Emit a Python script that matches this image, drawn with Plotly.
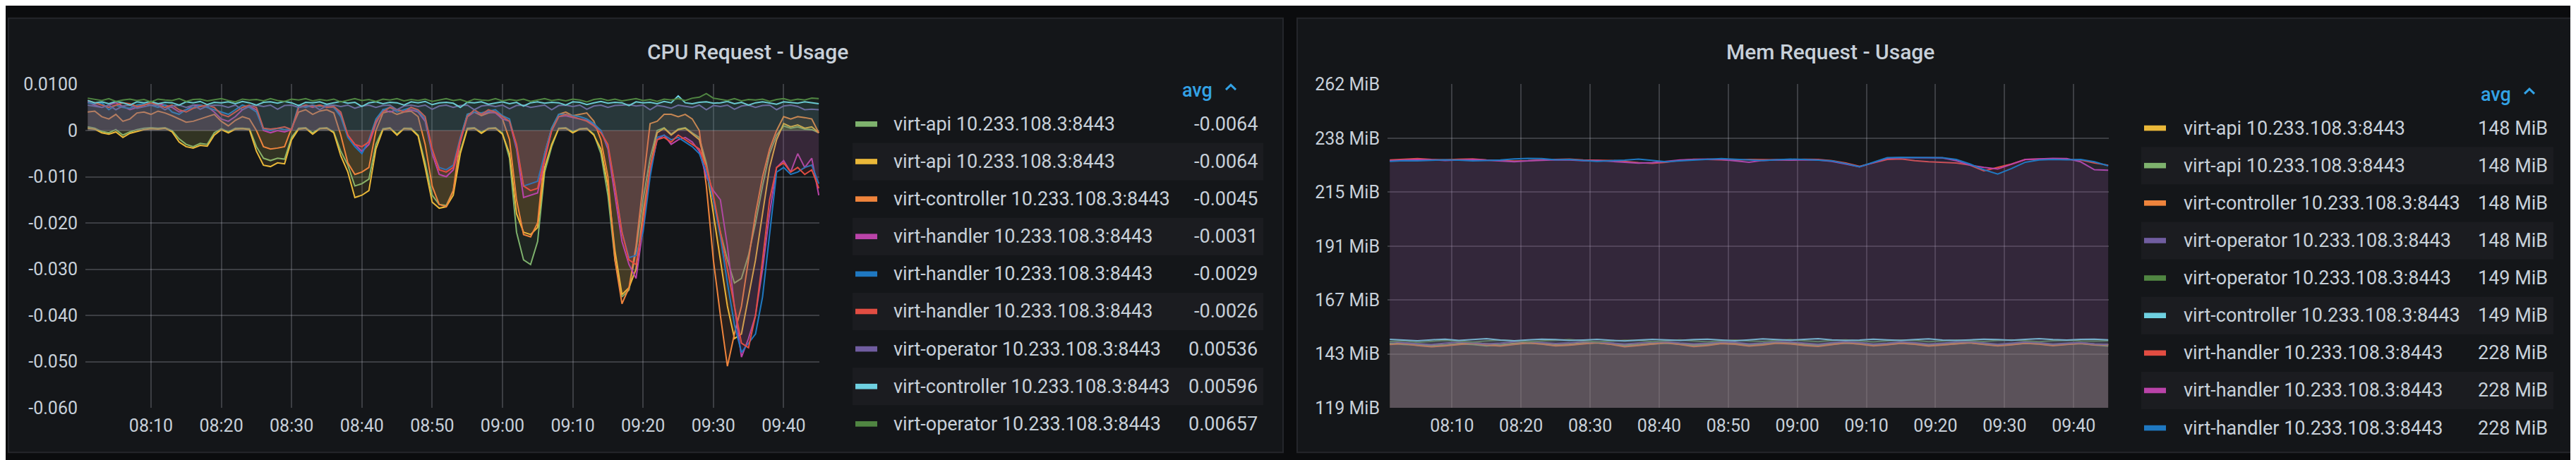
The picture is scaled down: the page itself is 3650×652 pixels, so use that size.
import pandas as pd
import plotly.graph_objects as go

W, H = 3650, 652

# CPU request - usage, one point per minute from 08:01, in units of 0.001
cpu_api_green = [
    0.8, 0.5, -0.2, -0.5, 0.2, -1.0, -0.3, 0.2, 0.5, 0.6, 0.5, 0.6,
    0.0, -1.8, -3.0, -3.5, -2.8, -3.0, -0.5,
    0.4, -0.3, 0.5, 0.5, 0.4,
    -3.5, -6.0, -6.5, -6.0, -6.2, -1.5,
    0.5, 0.6, -0.5, 0.5, 0.6, -0.3,
    -4.5, -7.5, -12.0, -11.5, -10.5, -3.0,
    0.4, 0.6, -0.8, 0.5, 0.5, -1.0,
    -7.0, -14.0, -16.0, -16.2, -13.0, -4.5,
    0.5, 0.6, -0.4, 0.5, 0.6, -0.6,
    -6.0, -22.0, -28.0, -29.0, -24.0, -9.0, -3.5,
    0.5, 0.6, -0.3, 0.4, 0.5, -0.8,
    -5.0, -14.0, -28.0, -36.0, -34.5, -26.0, -15.0, -6.0,
    0.0, 0.6, -0.8, 0.3, 0.6, -0.5, -1.5,
    -7.0, -15.0, -22.0, -28.0, -33.0, -32.0, -27.0, -20.0, -12.0, -5.0, -1.0,
    1.0, 0.5, 0.8, 0.3, 0.2, -0.5,
]
cpu_api_yellow = [
    0.5, 0.3, -0.5, -0.8, -0.3, -1.5, -0.6, -0.2, 0.2, 0.4, 0.3, 0.5,
    -0.3, -2.5, -3.5, -3.8, -3.2, -3.4, -1.0,
    0.2, -0.5, 0.3, 0.4, 0.2,
    -4.5, -7.5, -7.8, -7.0, -7.2, -2.0,
    0.3, 0.5, -0.8, 0.4, 0.5, -0.5,
    -5.5, -9.0, -14.5, -14.0, -13.0, -4.0,
    0.2, 0.5, -1.0, 0.4, 0.3, -1.2,
    -8.0, -15.5, -16.8, -16.5, -14.0, -5.0,
    0.3, 0.5, -0.6, 0.4, 0.5, -0.8,
    -5.0, -18.0, -22.0, -22.5, -21.0, -8.0, -3.0,
    0.4, 0.5, -0.5, 0.3, 0.4, -1.0,
    -4.0, -12.0, -26.0, -35.5, -34.0, -30.0, -18.0, -8.0,
    -0.5, 0.5, -1.0, 0.2, 0.5, -0.8, -2.0,
    -8.0, -18.0, -28.0, -38.0, -45.0, -44.0, -36.0, -28.0, -18.0, -8.0, -2.0,
    1.5, 0.8, 1.2, 0.5, 0.8, -0.5,
]
cpu_controller_orange = [
    4.0, 4.2, 3.0, 2.5, 3.5, 2.0, 2.5, 3.8, 4.0, 3.5, 4.2, 3.8,
    3.2, 2.5, 1.8, 2.0, 2.5, 3.0, 3.5,
    2.0, 1.0, 2.2, 3.0, 2.5,
    0.0, -3.5, -4.0, -3.8, -3.5, 0.5,
    4.0, 4.5, 3.5, 4.2, 4.5, 3.8,
    -1.0, -7.0, -9.5, -9.0, -8.0, 0.0,
    3.8, 4.2, 3.5, 4.0, 4.2, 3.0,
    -3.0, -12.0, -16.0, -16.5, -13.0, -2.0,
    3.5, 4.0, 3.2, 3.8, 4.0, 2.5,
    -2.0, -15.0, -22.5, -23.0, -20.0, -5.0, 0.5,
    3.5, 4.0, 3.2, 3.5, 3.8, 2.0,
    -2.0, -10.0, -28.0, -37.5, -34.0, -25.0, -12.0, 1.5,
    2.0, 3.5, 3.5, 3.0, 3.5, 2.5, 0.0,
    -12.0, -28.0, -40.0, -51.0, -44.0, -38.0, -28.0, -18.0, -10.0, -4.0, 0.0,
    3.0, 2.5, 3.0, 2.8, 2.5, -0.5,
]
cpu_handler_magenta = [
    6.2, 5.5, 5.0, 5.5, 6.0, 5.2, 4.5, 5.0, 5.5, 6.0, 5.8, 5.5,
    5.0, 4.0, 4.5, 5.5, 5.5, 5.2, 4.0,
    2.5, 2.0, 3.0, 4.5, 5.2,
    4.5, 0.0, -0.5, 0.0, -0.3, 0.2,
    5.0, 5.5, 5.0, 5.5, 5.2, 5.0,
    3.5, -1.0, -3.0, -4.5, -3.0, 1.5,
    4.5, 4.0, 4.5, 4.2, 4.5, 4.0,
    2.0, -5.0, -9.5, -10.0, -8.5, -2.5,
    3.0, 4.0, 3.5, 4.0, 3.8, 2.5,
    2.0, -4.0, -14.5, -14.0, -13.5, -6.5, 0.0,
    3.0, 3.2, 2.8, 2.5, 2.2, 1.2,
    0.0, -4.0, -14.0, -24.0, -29.0, -32.0, -21.0, -9.0,
    -2.0, -1.0, -3.0, -2.0, -1.5, -2.5, -4.5,
    -10.0, -13.0, -15.0, -25.0, -38.0, -49.0, -45.0, -40.0, -30.0, -18.0, -8.0,
    -6.5, -9.0, -5.0, -8.0, -6.0, -14.0,
]
cpu_handler_blue = [
    6.0, 5.8, 6.0, 4.5, 5.5, 5.0, 4.8, 5.5, 5.8, 5.5, 5.0, 5.5,
    4.0, 3.5, 4.5, 5.0, 5.5, 5.0, 4.5,
    4.0, 3.5, 4.5, 5.5, 5.0,
    4.0, 0.3, 0.0, 0.5, 0.2, 0.3,
    5.5, 5.0, 5.5, 5.2, 5.5, 5.0,
    3.0, -1.5, -3.5, -5.0, -2.0, 2.5,
    4.5, 5.0, 4.0, 4.5, 5.0, 4.2,
    2.5, -4.5, -8.0, -8.5, -7.5, -1.5,
    3.5, 4.0, 3.8, 4.2, 4.5, 3.2,
    2.5, -3.5, -12.0, -11.5, -11.0, -5.0, 0.5,
    3.5, 3.5, 3.2, 3.0, 2.5, 1.5,
    0.0, -3.5, -12.0, -22.0, -27.5, -27.0, -22.0, -10.0,
    -1.5, -1.0, -2.0, -1.5, -2.5, -3.5, -5.0,
    -9.0, -15.0, -23.0, -33.0, -42.0, -48.0, -46.0, -44.0, -36.0, -22.0, -9.0,
    -8.0, -9.5, -9.0, -8.0, -7.5, -11.5,
]
cpu_handler_red = [
    6.5, 6.0, 5.5, 5.0, 5.5, 6.0, 5.8, 5.2, 5.5, 6.0, 5.5, 5.0,
    5.5, 4.5, 4.0, 4.8, 5.2, 5.5, 5.0,
    3.5, 3.0, 4.0, 5.0, 5.5,
    5.0, 0.5, 0.3, 0.5, 0.8, 0.2,
    5.0, 5.5, 5.2, 5.5, 5.0, 5.2,
    4.0, -1.0, -3.0, -3.5, -2.5, 2.0,
    4.0, 5.0, 4.5, 4.0, 5.0, 4.5,
    3.0, -4.0, -8.5, -9.0, -8.0, -2.0,
    3.0, 4.5, 3.5, 4.5, 4.0, 3.0,
    2.0, -3.0, -12.0, -13.0, -12.5, -6.0, 0.0,
    3.0, 3.5, 3.0, 2.5, 2.0, 1.0,
    -0.5, -3.0, -12.0, -22.0, -28.0, -29.0, -20.0, -8.0,
    -2.0, -1.5, -2.5, -1.0, -2.0, -3.0, -4.0,
    -8.0, -14.0, -22.0, -30.0, -38.0, -46.0, -47.0, -40.0, -28.0, -15.0, -8.0,
    -7.0, -9.0, -8.0, -9.5, -8.5, -12.5,
]
cpu_operator_purple = [
    5.5, 5.2, 5.0, 5.5, 4.5, 5.3, 5.5, 4.8, 5.2, 5.5, 5.4, 4.5, 5.3, 5.5, 5.0,
    5.5, 4.6, 5.3, 5.5, 5.4, 5.0, 5.5, 4.5, 5.3, 5.5, 5.2, 5.5, 4.6, 5.4, 5.5,
    5.0, 5.3, 5.5, 4.5, 5.4, 5.5, 5.2, 5.5, 4.8, 5.3, 5.5, 5.0, 5.4, 5.5, 4.5,
    5.3, 5.5, 5.2, 5.5, 4.6, 5.3, 5.5, 5.0, 5.4, 5.5, 4.5, 5.3, 5.5, 5.2, 5.5,
    4.7, 5.4, 5.5, 5.0, 5.3, 5.5, 4.5, 5.4, 5.5, 5.2, 5.5, 4.6, 5.3, 5.5, 5.0,
    5.4, 5.5, 5.6, 5.3, 5.5, 4.5, 5.4, 5.2, 4.8, 5.5, 5.3, 5.0, 5.5, 4.5, 5.4,
    5.2, 5.5, 4.6, 5.3, 5.5, 5.0, 5.4, 5.5, 4.5, 5.3, 5.5, 5.2, 4.5, 4.6, 4.5,
]
cpu_controller_cyan = [
    6.5, 6.0, 6.2, 5.8, 6.3, 6.0, 5.5, 6.2, 6.0, 6.3, 5.8, 6.1, 6.0, 5.5, 6.2,
    6.0, 6.3, 5.6, 6.1, 6.0, 6.2, 5.8, 6.3, 6.0, 5.5, 6.1, 6.2, 5.9, 6.3, 6.0,
    5.4, 6.1, 6.0, 6.2, 5.7, 6.0, 6.3, 5.9, 6.1, 5.2, 6.0, 6.2, 5.8, 6.1, 6.0,
    5.5, 6.2, 6.0, 6.3, 5.6, 6.0, 6.1, 5.9, 5.0, 6.1, 6.0, 6.2, 5.7, 6.0, 6.2,
    5.8, 6.1, 5.3, 6.0, 6.2, 5.9, 6.1, 6.0, 5.5, 6.2, 6.1, 5.6, 6.0, 6.3, 5.9,
    6.1, 6.0, 5.4, 6.2, 6.0, 6.1, 5.8, 6.3, 6.0, 7.5, 6.0, 5.8, 6.1, 6.2, 5.9,
    6.0, 6.3, 5.8, 6.1, 5.5, 6.0, 6.2, 6.0, 5.7, 6.2, 6.1, 5.9, 6.2, 6.0, 5.8,
]
cpu_operator_green = [
    7.0, 6.8, 6.5, 6.9, 6.3, 6.6, 6.8, 6.5, 6.7, 6.2, 6.8, 6.6, 6.5, 6.9, 6.3,
    6.7, 6.8, 6.4, 6.6, 6.9, 6.5, 6.2, 6.8, 6.6, 6.7, 6.4, 6.9, 6.5, 6.3, 6.8,
    6.6, 6.9, 6.4, 6.7, 6.5, 6.8, 6.2, 6.6, 6.9, 6.5, 6.7, 6.3, 6.8, 6.6, 6.9,
    6.4, 6.7, 6.5, 6.8, 6.3, 6.6, 6.9, 6.5, 6.7, 6.2, 6.8, 6.6, 6.5, 6.9, 6.4,
    6.7, 6.5, 6.8, 6.3, 6.6, 6.9, 6.5, 6.7, 6.4, 6.8, 6.6, 6.2, 6.7, 6.9, 6.5,
    6.8, 6.4, 6.6, 6.9, 6.5, 6.7, 6.3, 6.8, 6.6, 6.9, 6.5, 7.0, 7.2, 8.0, 7.0,
    6.8, 6.5, 6.9, 6.4, 6.7, 6.6, 6.8, 6.3, 6.7, 6.9, 6.5, 6.8, 6.6, 7.0, 6.9,
]

# Mem request - usage, one point every 2 minutes from 08:01, MiB
mem_api_yellow = [
    147.5, 147.8, 147.2, 146.8, 147.0, 147.6, 147.9, 147.4, 147.1, 147.7,
    148.2, 147.8, 147.0, 147.3, 147.9, 148.0, 147.5, 146.9, 147.2, 147.8,
    148.1, 147.6, 147.0, 147.4, 148.0, 147.7, 147.2, 147.6, 148.2, 147.9,
    147.3, 147.0, 147.6, 148.1, 147.8, 147.2, 147.5, 148.0, 147.7, 147.1,
    147.4, 147.9, 148.2, 147.6, 147.0, 147.5, 148.0, 147.8, 147.2, 147.6,
    147.9, 147.4, 147.3,
]
mem_api_green = [
    147.8, 147.2, 147.0, 146.5, 146.9, 147.5, 147.2, 146.6, 147.0, 147.4,
    147.8, 147.5, 146.8, 147.0, 147.6, 147.9, 147.2, 146.7, 147.0, 147.5,
    147.8, 147.3, 146.8, 147.1, 147.7, 147.4, 146.9, 147.3, 147.9, 147.6,
    147.0, 146.8, 147.3, 147.8, 147.5, 146.9, 147.2, 147.7, 147.4, 146.8,
    147.1, 147.6, 147.9, 147.3, 146.8, 147.2, 147.7, 147.5, 146.9, 147.3,
    147.6, 147.0, 146.5,
]
mem_controller_orange = [
    147.2, 147.6, 146.8, 146.2, 146.6, 147.3, 147.8, 147.0, 146.5, 147.2,
    147.9, 147.4, 146.6, 146.9, 147.5, 148.0, 147.3, 146.2, 146.8, 147.5,
    148.0, 147.2, 146.3, 146.8, 147.6, 147.3, 146.5, 147.0, 147.8, 147.5,
    146.8, 146.4, 147.2, 147.9, 147.4, 146.6, 147.1, 147.8, 147.3, 146.5,
    147.0, 147.6, 148.0, 147.2, 146.6, 147.1, 147.8, 147.4, 146.7, 147.2,
    147.7, 147.1, 147.0,
]
mem_operator_purple = [
    148.5, 148.0, 147.6, 147.2, 147.8, 148.3, 148.0, 147.5, 147.8, 148.4,
    148.6, 148.2, 147.6, 147.9, 148.5, 148.4, 147.8, 147.4, 147.9, 148.3,
    148.5, 147.9, 147.5, 147.8, 148.4, 148.2, 147.5, 147.9, 148.6, 148.3,
    147.7, 147.3, 148.0, 148.5, 148.1, 147.4, 147.8, 148.4, 148.0, 147.4,
    147.8, 148.3, 148.5, 147.9, 147.3, 147.8, 148.3, 148.0, 147.4, 147.8,
    148.1, 147.5, 147.2,
]
mem_operator_green = [
    148.6, 148.9, 148.2, 148.5, 149.0, 148.7, 148.3, 148.8, 149.2, 148.9,
    148.5, 148.8, 149.2, 149.4, 148.9, 148.4, 148.7, 149.1, 149.0, 148.5,
    148.9, 149.3, 148.8, 148.4, 148.9, 149.2, 148.8, 148.6, 149.0, 149.4,
    148.9, 148.5, 149.0, 149.3, 148.8, 148.4, 148.9, 149.2, 149.0, 148.5,
    148.8, 149.2, 148.9, 148.6, 149.0, 149.3, 148.9, 148.5, 148.9, 149.1,
    148.8, 148.7, 148.9,
]
mem_controller_cyan = [
    149.5, 149.2, 148.9, 149.3, 149.6, 149.0, 149.4, 149.8, 149.2, 148.9,
    149.3, 149.6, 149.4, 149.0, 149.2, 149.5, 149.1, 148.8, 149.2, 149.5,
    149.3, 149.0, 149.4, 149.6, 149.2, 148.9, 149.3, 149.7, 149.4, 149.1,
    149.5, 149.8, 149.3, 149.0, 149.2, 149.6, 149.3, 149.0, 149.4, 149.7,
    149.2, 149.0, 149.3, 149.6, 149.4, 149.1, 149.5, 149.8, 149.4, 149.2,
    149.5, 149.6, 149.3,
]
mem_handler_red = [
    228.8, 229.2, 229.4, 229.0, 228.9, 229.1, 229.3, 228.8, 228.6, 228.3,
    228.5, 228.9, 229.0, 229.2, 228.8, 228.7, 228.6, 228.2, 227.6, 227.3,
    227.8, 228.6, 229.1, 229.0, 228.8, 228.7, 229.0, 228.9, 228.7, 228.8,
    229.1, 229.0, 228.5, 227.5, 226.0, 227.5, 229.0, 229.3, 228.5, 228.0,
    227.8, 227.5, 226.5, 224.0, 225.5, 227.0, 229.0, 229.2, 229.3, 229.0,
    228.8, 227.5, 226.5,
]
mem_handler_magenta = [
    228.5, 228.8, 229.0, 228.9, 228.6, 228.8, 229.0, 228.7, 228.3, 228.0,
    228.4, 228.7, 228.9, 228.8, 228.5, 228.6, 228.3, 227.8, 227.4, 227.6,
    228.2, 228.8, 229.0, 229.2, 229.0, 228.5, 227.8, 228.6, 228.9, 228.7,
    228.9, 228.8, 228.2, 227.0, 225.8, 227.6, 229.6, 229.8, 229.9, 229.8,
    229.7, 228.5, 226.5, 225.5, 224.8, 227.0, 229.0, 229.3, 229.5, 229.4,
    228.0, 224.5, 224.3,
]
mem_handler_blue = [
    228.2, 228.5, 228.4, 228.6, 228.9, 228.7, 228.4, 228.6, 228.8, 229.3,
    229.5, 229.4, 228.9, 229.0, 228.7, 228.2, 228.5, 228.7, 229.2, 228.6,
    228.0, 228.4, 228.8, 229.0, 229.4, 229.1, 228.8, 228.6, 228.9, 229.2,
    229.0, 228.7, 228.4, 227.2, 225.8, 227.8, 229.8, 230.0, 230.0, 230.0,
    229.8, 229.0, 227.0, 224.5, 222.6, 225.0, 227.8, 228.8, 229.0, 228.9,
    229.0, 228.0, 226.2,
]

cpu_names = ["virt-api 10.233.108.3:8443", "virt-api 10.233.108.3:8443",
             "virt-controller 10.233.108.3:8443", "virt-handler 10.233.108.3:8443",
             "virt-handler 10.233.108.3:8443", "virt-handler 10.233.108.3:8443",
             "virt-operator 10.233.108.3:8443", "virt-controller 10.233.108.3:8443",
             "virt-operator 10.233.108.3:8443"]
cpu_avgs = ["-0.0064", "-0.0064", "-0.0045", "-0.0031", "-0.0029", "-0.0026",
            "0.00536", "0.00596", "0.00657"]
cpu_series = [cpu_api_green, cpu_api_yellow, cpu_controller_orange, cpu_handler_magenta,
              cpu_handler_blue, cpu_handler_red, cpu_operator_purple, cpu_controller_cyan,
              cpu_operator_green]
cpu_colors = ["#7EB26D", "#EAB839", "#EF843C", "#BA43A9", "#1F78C1", "#E24D42",
              "#705DA0", "#6ED0E0", "#508642"]

mem_names = ["virt-api 10.233.108.3:8443", "virt-api 10.233.108.3:8443",
             "virt-controller 10.233.108.3:8443", "virt-operator 10.233.108.3:8443",
             "virt-operator 10.233.108.3:8443", "virt-controller 10.233.108.3:8443",
             "virt-handler 10.233.108.3:8443", "virt-handler 10.233.108.3:8443",
             "virt-handler 10.233.108.3:8443"]
mem_avgs = ["148 MiB", "148 MiB", "148 MiB", "148 MiB", "149 MiB", "149 MiB",
            "228 MiB", "228 MiB", "228 MiB"]
mem_series = [mem_api_yellow, mem_api_green, mem_controller_orange, mem_operator_purple,
              mem_operator_green, mem_controller_cyan, mem_handler_red, mem_handler_magenta,
              mem_handler_blue]
mem_colors = ["#EAB839", "#7EB26D", "#EF843C", "#705DA0", "#508642", "#6ED0E0",
              "#E24D42", "#BA43A9", "#1F78C1"]

mem_tick_vals = [119.21, 143.05, 166.89, 190.73, 214.58, 238.42, 262.26]
mem_tick_text = ["119 MiB", "143 MiB", "167 MiB", "191 MiB", "215 MiB", "238 MiB", "262 MiB"]
cpu_tick_vals = [-0.06, -0.05, -0.04, -0.03, -0.02, -0.01, 0, 0.01]
cpu_tick_text = ["-0.060", "-0.050", "-0.040", "-0.030", "-0.020", "-0.010", "0", "0.0100"]

TEXT = "#c7d0d9"
FONT = "Roboto"


def px(x):
    return x / W


def py(y):
    return 1 - y / H


def rgba(hexc, a):
    h = hexc.lstrip("#")
    return f"rgba({int(h[0:2], 16)},{int(h[2:4], 16)},{int(h[4:6], 16)},{a})"


fig = go.Figure()

for vals, col in zip(cpu_series, cpu_colors):
    t = pd.date_range("2021-01-01 08:01", periods=len(vals), freq="1min")
    fig.add_trace(go.Scatter(x=t, y=[v / 1000 for v in vals], mode="lines",
                             line=dict(color=col, width=2), fill="tozeroy",
                             fillcolor=rgba(col, 0.1), xaxis="x", yaxis="y",
                             showlegend=False, hoverinfo="skip"))

for vals, col in zip(mem_series, mem_colors):
    t = pd.date_range("2021-01-01 08:01", periods=len(vals), freq="2min")
    fig.add_trace(go.Scatter(x=t, y=vals, mode="lines",
                             line=dict(color=col, width=2), fill="tozeroy",
                             fillcolor=rgba(col, 0.1), xaxis="x2", yaxis="y2",
                             showlegend=False, hoverinfo="skip"))

xr = ["2021-01-01 08:00:40", "2021-01-01 09:45:05"]
grid = "rgba(204,204,220,0.22)"
ydom = [py(582), py(102)]
xcommon = dict(type="date", range=xr, dtick=600000, tickformat="%H:%M", showgrid=True,
               gridcolor=grid, gridwidth=2, zeroline=False, showline=False, ticks="",
               tickfont=dict(family=FONT, size=25, color=TEXT), ticklabelstandoff=8)
ycommon = dict(showgrid=True, gridcolor=grid, gridwidth=2, zeroline=False, ticks="",
               tickfont=dict(family=FONT, size=25, color=TEXT), ticklabelstandoff=10)

shapes = []
annotations = []

# panels
for x0, x1 in [(4, 1810), (1830, 3640)]:
    shapes.append(dict(type="rect", xref="paper", yref="paper", x0=px(x0), x1=px(x1),
                       y0=py(648), y1=py(4), fillcolor="#141619",
                       line=dict(color="#24262b", width=2), layer="below"))


def legend(names, avgs, colors, swatch_x, text_x, val_x, row_y0, band_x0, band_x1,
           avg_x, avg_y):
    step = 55.6
    for i, (n, a, c) in enumerate(zip(names, avgs, colors)):
        yc = row_y0 + i * step
        if i % 2 == 1:
            shapes.append(dict(type="rect", xref="paper", yref="paper", x0=px(band_x0),
                               x1=px(band_x1), y0=py(yc + step / 2), y1=py(yc - step / 2),
                               fillcolor="#1b1c20", line=dict(width=0), layer="below"))
        shapes.append(dict(type="rect", xref="paper", yref="paper", x0=px(swatch_x),
                           x1=px(swatch_x + 31), y0=py(yc + 4), y1=py(yc - 4),
                           fillcolor=c, line=dict(width=0)))
        annotations.append(dict(xref="paper", yref="paper", x=px(text_x), y=py(yc),
                                text=n, showarrow=False, xanchor="left", yanchor="middle",
                                font=dict(family=FONT, size=27, color=TEXT)))
        annotations.append(dict(xref="paper", yref="paper", x=px(val_x), y=py(yc),
                                text=a, showarrow=False, xanchor="right", yanchor="middle",
                                font=dict(family=FONT, size=27, color=TEXT)))
    annotations.append(dict(xref="paper", yref="paper", x=px(avg_x), y=py(avg_y),
                            text="avg", showarrow=False, xanchor="right", yanchor="middle",
                            font=dict(family=FONT, size=27, color="#33a2e5", weight=500)))
    cx = avg_x + 24
    shapes.append(dict(type="path", xref="paper", yref="paper",
                       path=f"M {px(cx - 7)} {py(avg_y - 1)} L {px(cx)} {py(avg_y - 8)} "
                            f"L {px(cx + 7)} {py(avg_y - 1)}",
                       line=dict(color="#33a2e5", width=3)))


legend(cpu_names, cpu_avgs, cpu_colors, 1204, 1256, 1776, 161, 1200, 1782, 1712, 111)
legend(mem_names, mem_avgs, mem_colors, 3030, 3084, 3604, 167, 3026, 3610, 3552, 117)

annotations.append(dict(xref="paper", yref="paper", x=px(907), y=py(34), text="CPU Request - Usage",
                        showarrow=False, font=dict(family=FONT, size=30, color=TEXT, weight=500)))
annotations.append(dict(xref="paper", yref="paper", x=px(2735), y=py(34), text="Mem Request - Usage",
                        showarrow=False, font=dict(family=FONT, size=30, color=TEXT, weight=500)))

fig.update_layout(
    width=W, height=H, margin=dict(l=0, r=0, t=0, b=0),
    paper_bgcolor="#0b0c0e", plot_bgcolor="rgba(0,0,0,0)",
    xaxis=dict(domain=[px(113), px(1153)], anchor="y", **xcommon),
    yaxis=dict(domain=ydom, anchor="x", range=[-0.06, 0.01], tickvals=cpu_tick_vals,
               ticktext=cpu_tick_text, **ycommon),
    xaxis2=dict(domain=[px(1958), px(2980)], anchor="y2", **xcommon),
    yaxis2=dict(domain=ydom, anchor="x2", range=[119.21, 262.26], tickvals=mem_tick_vals,
                ticktext=mem_tick_text, **ycommon),
    shapes=shapes, annotations=annotations,
)

fig.write_html("out.html")
